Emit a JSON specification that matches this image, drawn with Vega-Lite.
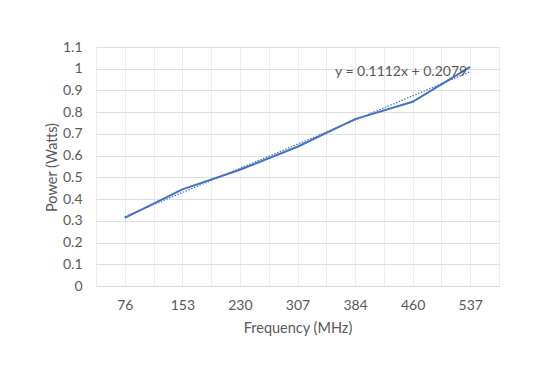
{
  "$schema": "https://vega.github.io/schema/vega-lite/v6.json",
  "width": 403,
  "height": 239,
  "autosize": {"type": "none"},
  "padding": {"left": 96, "top": 47, "right": 46, "bottom": 99},
  "background": "white",
  "config": {
    "font": "Lato",
    "view": {"stroke": null},
    "axis": {
      "labelFont": "Lato",
      "titleFont": "Lato",
      "labelColor": "#595959",
      "titleColor": "#595959",
      "labelFontSize": 14,
      "titleFontSize": 14.5,
      "titleFontWeight": "normal",
      "ticks": false
    }
  },
  "datasets": {
    "measured": [
      {"i": 1, "freq": "76", "power": 0.314},
      {"i": 2, "freq": "153", "power": 0.445},
      {"i": 3, "freq": "230", "power": 0.535},
      {"i": 4, "freq": "307", "power": 0.641},
      {"i": 5, "freq": "384", "power": 0.768},
      {"i": 6, "freq": "460", "power": 0.848},
      {"i": 7, "freq": "537", "power": 1.009}
    ],
    "trend": [
      {"i": 1, "power": 0.3191},
      {"i": 7, "power": 0.9863}
    ],
    "label": [
      {"i": 4.65, "power": 0.966, "text": "y = 0.1112x + 0.2079"}
    ]
  },
  "layer": [
    {
      "data": {"name": "measured"},
      "mark": {"type": "line", "color": "#4472c4", "strokeWidth": 2},
      "encoding": {
        "x": {
          "field": "i",
          "type": "quantitative",
          "scale": {"domain": [0.5, 7.5], "nice": false, "zero": false},
          "axis": {
            "title": "Frequency (MHz)",
            "values": [0.5, 1, 1.5, 2, 2.5, 3, 3.5, 4, 4.5, 5, 5.5, 6, 6.5, 7, 7.5],
            "tickCount": 50,
            "labelExpr": "datum.value % 1 === 0 ? ['76','153','230','307','384','460','537'][datum.value - 1] : ''",
            "grid": true,
            "gridColor": "#ededed",
            "gridWidth": 1,
            "domainColor": "#d9d9d9",
            "domainWidth": 1,
            "labelPadding": 12,
            "labelFlush": false,
            "labelOverlap": false,
            "titleY": 46,
            "titleBaseline": "alphabetic"
          }
        },
        "y": {
          "field": "power",
          "type": "quantitative",
          "scale": {"domain": [0, 1.1], "nice": false},
          "axis": {
            "title": "Power (Watts)",
            "values": [0, 0.1, 0.2, 0.3, 0.4, 0.5, 0.6, 0.7, 0.8, 0.9, 1, 1.1],
            "tickCount": 50,
            "labelExpr": "'' + datum.value",
            "grid": true,
            "gridColor": "#dedede",
            "domain": false,
            "labelPadding": 14,
            "labelOverlap": false,
            "labelFlush": false,
            "titleX": -40,
            "titleY": 120,
            "titleAngle": -90,
            "titleAlign": "center",
            "titleBaseline": "alphabetic"
          }
        }
      }
    },
    {
      "data": {"name": "trend"},
      "mark": {"type": "line", "color": "#4472c4", "strokeWidth": 1.25, "strokeDash": [1.5, 1.5]},
      "encoding": {
        "x": {"field": "i", "type": "quantitative"},
        "y": {"field": "power", "type": "quantitative"}
      }
    },
    {
      "data": {"name": "label"},
      "mark": {"type": "text", "align": "left", "baseline": "alphabetic", "fontSize": 14, "color": "#595959", "font": "Lato"},
      "encoding": {
        "x": {"field": "i", "type": "quantitative"},
        "y": {"field": "power", "type": "quantitative"},
        "text": {"field": "text"}
      }
    }
  ]
}
